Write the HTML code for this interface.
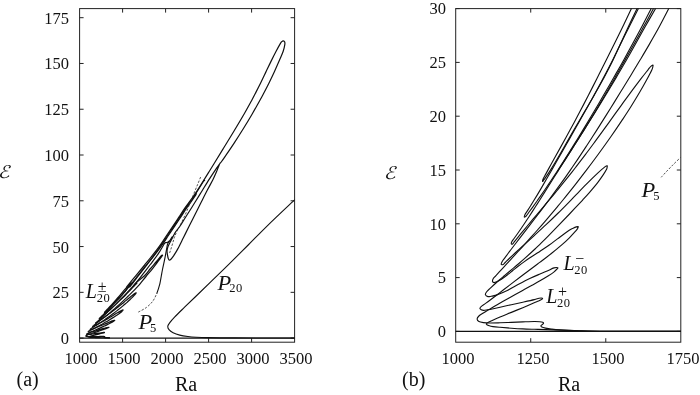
<!DOCTYPE html>
<html lang="en"><head><meta charset="utf-8"><title>Bifurcation diagrams</title>
<style>
html,body{margin:0;padding:0;background:#fff;}
body{width:700px;height:395px;overflow:hidden;}
svg{display:block;}
text{font-family:"Liberation Serif","DejaVu Serif",serif;fill:#111;}
.tk text{font-size:16.5px;}
.big{font-size:20px;}
.it{font-style:italic;}
.sc{font-size:12.5px;letter-spacing:0.5px;}
.sp{font-size:16px;}
.cal{font-family:"DejaVu Sans","Liberation Serif",sans-serif;font-size:17.6px;font-style:italic;}
.cv path{fill:none;stroke:#111;stroke-width:1.12;stroke-linejoin:round;stroke-linecap:round;}
.cv path.th{stroke-width:0.8;}
.cv path.sn{stroke-width:1.2;}
.cv path.ds{stroke-width:0.85;stroke-dasharray:2.3 1.5;stroke:#333;stroke-linecap:butt;}
</style></head><body>
<svg width="700" height="395" viewBox="0 0 700 395">
<rect width="700" height="395" fill="#fff"/>
<rect x="79.60" y="8.60" width="215.00" height="333.60" fill="none" stroke="#222" stroke-width="1"/>
<path d="M122.60 342.20v-4.00M122.60 8.60v4.00M165.60 342.20v-4.00M165.60 8.60v4.00M208.60 342.20v-4.00M208.60 8.60v4.00M251.60 342.20v-4.00M251.60 8.60v4.00M79.60 338.10h4.00M294.60 338.10h-4.00M79.60 292.33h4.00M294.60 292.33h-4.00M79.60 246.56h4.00M294.60 246.56h-4.00M79.60 200.79h4.00M294.60 200.79h-4.00M79.60 155.01h4.00M294.60 155.01h-4.00M79.60 109.24h4.00M294.60 109.24h-4.00M79.60 63.47h4.00M294.60 63.47h-4.00M79.60 17.70h4.00M294.60 17.70h-4.00" stroke="#222" stroke-width="1" fill="none"/>
<rect x="455.70" y="8.60" width="225.10" height="333.60" fill="none" stroke="#222" stroke-width="1"/>
<path d="M530.73 342.20v-4.00M530.73 8.60v4.00M605.77 342.20v-4.00M605.77 8.60v4.00M455.70 331.40h4.00M680.80 331.40h-4.00M455.70 277.60h4.00M680.80 277.60h-4.00M455.70 223.80h4.00M680.80 223.80h-4.00M455.70 170.00h4.00M680.80 170.00h-4.00M455.70 116.20h4.00M680.80 116.20h-4.00M455.70 62.40h4.00M680.80 62.40h-4.00M455.70 8.60h4.00M680.80 8.60h-4.00" stroke="#222" stroke-width="1" fill="none"/>
<g class="tk"><text x="81.10" y="364" text-anchor="middle">1000</text>
<text x="124.10" y="364" text-anchor="middle">1500</text>
<text x="167.10" y="364" text-anchor="middle">2000</text>
<text x="210.10" y="364" text-anchor="middle">2500</text>
<text x="253.10" y="364" text-anchor="middle">3000</text>
<text x="296.10" y="364" text-anchor="middle">3500</text>
<text x="69" y="344.10" text-anchor="end">0</text>
<text x="69" y="298.33" text-anchor="end">25</text>
<text x="69" y="252.56" text-anchor="end">50</text>
<text x="69" y="206.79" text-anchor="end">75</text>
<text x="69" y="161.01" text-anchor="end">100</text>
<text x="69" y="115.24" text-anchor="end">125</text>
<text x="69" y="69.47" text-anchor="end">150</text>
<text x="69" y="23.70" text-anchor="end">175</text>
<text x="457.90" y="364" text-anchor="middle">1000</text>
<text x="532.93" y="364" text-anchor="middle">1250</text>
<text x="607.97" y="364" text-anchor="middle">1500</text>
<text x="683.00" y="364" text-anchor="middle">1750</text>
<text x="446" y="337.20" text-anchor="end">0</text>
<text x="446" y="283.40" text-anchor="end">5</text>
<text x="446" y="229.60" text-anchor="end">10</text>
<text x="446" y="175.80" text-anchor="end">15</text>
<text x="446" y="122.00" text-anchor="end">20</text>
<text x="446" y="68.20" text-anchor="end">25</text>
<text x="446" y="14.40" text-anchor="end">30</text></g>
<text class="big" x="16.5" y="386">(a)</text>
<text class="big" x="402" y="386">(b)</text>
<text class="big" x="175" y="391">Ra</text>
<text class="big" x="558" y="391">Ra</text>
<text class="cal" transform="translate(-2.2 178.4) skewX(-14) scale(1.12 1)">&#8496;</text>
<text class="cal" transform="translate(383.7 178.5) skewX(-14) scale(1.12 1)">&#8496;</text>
<text class="big it" x="563.4" y="269.8">L</text><text class="sc" x="574.3" y="273.7">20</text><text class="sp" x="575.3" y="264.2">&#8722;</text>
<text class="big it" x="546.2" y="302.6">L</text><text class="sc" x="557.1" y="306.5">20</text><text class="sp" x="558.1" y="297.0">+</text>
<text class="big it" transform="translate(641.6 197.4) scale(1.12 1)">P</text><text class="sc" x="653.2" y="200.0">5</text>
<text class="big it" x="85.8" y="298.0">L</text><text class="sc" x="96.7" y="301.9">20</text><text class="sp" x="97.7" y="292.4">&#177;</text>
<text class="big it" transform="translate(138.4 328.9) scale(1.12 1)">P</text><text class="sc" x="150.0" y="331.5">5</text>
<text class="big it" transform="translate(217.6 289.7) scale(1.12 1)">P</text><text class="sc" x="229.2" y="292.3">20</text>
<clipPath id="cr"><rect x="455.70" y="8.60" width="225.10" height="333.60"/></clipPath>
<clipPath id="cl"><rect x="79.60" y="8.60" width="215.00" height="333.60"/></clipPath>
<g class="cv" clip-path="url(#cr)"><path d="M680.80 331.40C674.00 331.40 652.63 331.42 640.00 331.40C627.37 331.38 615.00 331.40 605.00 331.30C595.00 331.20 587.50 331.00 580.00 330.80C572.50 330.60 565.75 330.30 560.00 330.10C554.25 329.90 549.80 329.73 545.50 329.60C541.20 329.47 537.98 329.42 534.20 329.30C530.42 329.18 526.60 329.08 522.80 328.90C519.00 328.72 515.20 328.47 511.40 328.20C507.60 327.93 503.07 327.57 500.00 327.30C496.93 327.03 494.78 326.85 493.00 326.60C491.22 326.35 490.40 326.20 489.30 325.80C488.20 325.40 486.67 324.73 486.40 324.20C486.13 323.67 486.73 323.23 487.70 322.60C488.67 321.97 490.16 321.35 492.21 320.42C494.26 319.48 496.81 318.35 500.00 317.01C503.20 315.66 507.58 313.92 511.38 312.36C515.19 310.80 519.02 309.24 522.82 307.65C526.62 306.07 531.55 303.96 534.18 302.85C536.81 301.74 537.35 301.58 538.60 301.00C539.85 300.42 541.06 299.85 541.69 299.39C542.32 298.92 542.85 298.38 542.40 298.20C541.95 298.02 540.36 298.07 539.00 298.30C537.64 298.53 536.95 298.95 534.24 299.60C531.54 300.25 526.59 301.35 522.78 302.20C518.97 303.05 515.16 303.83 511.37 304.68C507.59 305.52 503.25 306.55 500.06 307.26C496.86 307.98 494.29 308.54 492.21 308.96C490.14 309.39 489.10 309.56 487.61 309.80C486.13 310.04 484.57 310.57 483.30 310.40C482.03 310.23 480.37 309.43 480.00 308.80C479.63 308.17 480.23 307.46 481.10 306.60C481.97 305.74 483.81 304.67 485.22 303.65C486.63 302.62 487.67 301.87 489.55 300.46C491.43 299.05 494.17 296.98 496.51 295.21C498.84 293.43 500.82 291.90 503.55 289.81C506.27 287.72 509.40 285.29 512.85 282.66C516.29 280.03 520.43 276.89 524.22 274.03C528.01 271.17 532.96 267.48 535.60 265.50C538.24 263.52 537.48 264.12 540.05 262.16C542.63 260.21 547.38 256.67 551.04 253.75C554.71 250.84 558.98 247.33 562.03 244.67C565.09 242.02 567.27 239.89 569.37 237.81C571.47 235.73 573.27 233.71 574.64 232.17C576.01 230.64 577.09 229.29 577.60 228.60C578.11 227.91 577.58 228.34 577.69 228.04C577.81 227.74 578.53 226.99 578.30 226.80C578.07 226.61 577.17 226.67 576.30 226.90C575.43 227.13 574.28 227.60 573.11 228.16C571.93 228.71 571.79 228.50 569.24 230.25C566.68 232.00 561.03 236.23 557.77 238.65C554.50 241.07 552.57 242.67 549.64 244.76C546.70 246.85 542.45 249.65 540.13 251.20C537.82 252.74 537.45 252.92 535.75 254.02C534.05 255.13 531.86 256.51 529.91 257.82C527.96 259.12 525.94 260.49 524.03 261.85C522.12 263.22 520.32 264.56 518.44 266.02C516.57 267.47 514.64 269.06 512.77 270.56C510.91 272.07 509.15 273.59 507.26 275.04C505.37 276.48 503.19 278.11 501.42 279.23C499.65 280.34 497.83 281.18 496.62 281.74C495.42 282.30 494.89 282.66 494.20 282.60C493.51 282.54 492.65 282.08 492.50 281.40C492.35 280.72 492.76 279.43 493.30 278.50C493.84 277.57 494.37 277.32 495.73 275.82C497.10 274.33 499.61 271.59 501.47 269.56C503.34 267.53 505.04 265.68 506.91 263.66C508.78 261.63 510.76 259.48 512.67 257.40C514.58 255.33 516.64 253.09 518.37 251.20C520.10 249.31 520.22 249.21 523.07 246.05C525.92 242.89 531.55 236.67 535.47 232.25C539.38 227.83 542.90 223.81 546.57 219.53C550.25 215.26 554.76 209.89 557.52 206.59C560.29 203.29 560.27 203.32 563.16 199.74C566.06 196.17 570.99 190.08 574.89 185.12C578.80 180.15 582.83 174.93 586.61 169.96C590.38 164.98 594.32 159.67 597.55 155.27C600.79 150.86 603.00 147.80 606.03 143.52C609.06 139.25 612.96 133.66 615.73 129.64C618.49 125.62 620.05 123.32 622.62 119.42C625.19 115.51 628.30 110.78 631.16 106.22C634.02 101.66 637.15 96.54 639.79 92.04C642.43 87.55 644.99 82.94 646.99 79.26C648.99 75.59 650.81 72.15 651.80 70.00C652.79 67.85 652.74 67.21 652.91 66.38C653.08 65.55 653.18 64.96 652.80 65.00C652.42 65.04 651.40 65.80 650.60 66.60C649.80 67.40 649.58 67.83 648.01 69.81C646.45 71.79 643.73 75.19 641.22 78.46C638.71 81.73 635.82 85.53 632.93 89.40C630.04 93.28 626.90 97.57 623.90 101.70C620.89 105.82 618.28 109.47 614.89 114.17C611.50 118.87 607.05 125.09 603.57 129.90C600.09 134.70 597.08 138.84 594.01 143.01C590.94 147.17 588.28 150.77 585.16 154.89C582.05 159.02 578.69 163.41 575.32 167.75C571.94 172.08 567.93 177.12 564.89 180.91C561.85 184.71 559.69 187.33 557.09 190.49C554.49 193.66 551.14 197.66 549.27 199.90C547.41 202.14 547.20 202.38 545.90 203.92C544.60 205.46 542.95 207.42 541.48 209.16C540.01 210.90 538.61 212.55 537.09 214.35C535.57 216.14 533.92 218.08 532.35 219.94C530.79 221.80 529.19 223.69 527.67 225.50C526.16 227.32 524.74 229.02 523.24 230.83C521.74 232.64 520.11 234.62 518.68 236.38C517.25 238.14 515.67 240.12 514.66 241.39C513.64 242.66 513.16 243.60 512.60 244.00C512.04 244.40 511.42 244.22 511.30 243.80C511.18 243.38 511.41 242.42 511.90 241.50C512.39 240.58 513.05 239.95 514.24 238.29C515.43 236.62 517.47 233.76 519.04 231.51C520.61 229.26 522.16 226.97 523.64 224.77C525.13 222.57 526.54 220.44 527.95 218.29C529.36 216.15 530.80 213.93 532.13 211.89C533.45 209.85 534.67 207.95 535.89 206.05C537.11 204.14 537.96 202.81 539.46 200.45C540.95 198.10 542.87 195.07 544.86 191.91C546.86 188.76 549.29 184.90 551.42 181.51C553.55 178.13 555.46 175.09 557.66 171.60C559.87 168.11 561.84 164.97 564.62 160.58C567.40 156.18 571.01 150.49 574.35 145.21C577.69 139.94 581.26 134.31 584.66 128.91C588.06 123.52 591.18 118.57 594.74 112.84C598.30 107.11 602.36 100.56 606.03 94.52C609.70 88.48 613.36 82.37 616.76 76.60C620.17 70.83 623.52 65.02 626.46 59.91C629.39 54.81 631.28 51.45 634.37 45.98C637.45 40.51 641.42 33.35 644.96 27.10C648.49 20.84 653.38 12.28 655.59 8.43C657.80 4.58 657.77 4.74 658.20 4.00"/>
<path d="M639.60 4.00C639.18 4.74 639.31 3.92 637.09 8.44C634.87 12.97 630.26 22.59 626.27 31.15C622.29 39.70 616.96 51.87 613.17 59.77C609.38 67.66 606.74 72.53 603.53 78.52C600.32 84.50 597.31 89.74 593.92 95.67C590.52 101.60 586.48 108.39 583.16 114.09C579.83 119.78 577.19 124.26 573.97 129.82C570.76 135.38 566.87 142.23 563.87 147.43C560.88 152.64 558.28 157.19 555.99 161.05C553.71 164.91 551.79 167.99 550.16 170.59C548.53 173.18 547.25 175.04 546.19 176.60C545.13 178.17 544.40 179.18 543.80 180.00C543.20 180.82 542.73 181.63 542.60 181.50C542.47 181.37 542.48 180.43 543.00 179.20C543.52 177.97 544.68 176.04 545.72 174.11C546.76 172.19 548.01 169.89 549.26 167.63C550.50 165.37 551.26 164.00 553.18 160.54C555.10 157.08 557.95 152.00 560.78 146.88C563.61 141.77 567.19 135.30 570.16 129.83C573.13 124.35 575.61 119.74 578.61 114.06C581.61 108.38 585.11 101.67 588.16 95.74C591.22 89.81 593.93 84.47 596.96 78.48C600.00 72.49 602.68 67.18 606.38 59.78C610.09 52.39 615.01 42.63 619.19 34.10C623.37 25.56 629.05 13.58 631.43 8.57C633.82 3.55 633.16 4.76 633.50 4.00"/>
<path d="M680.80 331.40C674.00 331.40 652.63 331.42 640.00 331.40C627.37 331.38 615.00 331.42 605.00 331.30C595.00 331.18 587.50 330.93 580.00 330.70C572.50 330.47 564.80 330.17 560.00 329.90C555.20 329.63 553.62 329.40 551.20 329.10C548.78 328.80 547.07 328.45 545.50 328.10C543.93 327.75 542.57 327.37 541.80 327.00C541.03 326.63 540.85 326.28 540.90 325.90C540.95 325.52 541.67 325.13 542.10 324.70C542.53 324.27 543.40 323.72 543.50 323.30C543.60 322.88 543.30 322.47 542.70 322.20C542.10 321.93 541.32 321.82 539.90 321.70C538.48 321.58 537.05 321.47 534.20 321.50C531.35 321.53 526.60 321.75 522.80 321.90C519.00 322.05 515.20 322.25 511.40 322.40C507.60 322.55 503.57 322.70 500.00 322.80C496.43 322.90 492.78 323.03 490.00 323.00C487.22 322.97 485.15 322.83 483.30 322.60C481.45 322.37 479.93 322.18 478.90 321.60C477.87 321.02 477.10 320.03 477.10 319.10C477.10 318.17 477.86 317.02 478.90 316.00C479.94 314.98 481.89 313.93 483.34 312.98C484.80 312.02 486.26 311.13 487.63 310.29C489.01 309.45 489.94 308.89 491.61 307.92C493.28 306.95 495.78 305.51 497.63 304.46C499.48 303.40 499.76 303.25 502.70 301.60C505.64 299.95 511.69 296.56 515.27 294.56C518.86 292.56 521.41 291.15 524.20 289.60C526.99 288.05 529.41 286.73 532.04 285.27C534.67 283.81 537.30 282.37 539.96 280.83C542.62 279.29 545.71 277.48 548.02 276.03C550.32 274.57 552.28 273.28 553.80 272.10C555.32 270.92 556.50 269.70 557.15 268.97C557.80 268.24 558.23 267.88 557.70 267.70C557.17 267.52 555.76 267.35 554.00 267.90C552.24 268.45 549.50 269.97 547.16 270.98C544.83 271.99 542.89 272.72 539.99 273.98C537.09 275.23 533.32 276.81 529.74 278.53C526.16 280.26 522.25 282.34 518.51 284.33C514.77 286.32 511.01 288.65 507.30 290.45C503.58 292.25 498.90 294.15 496.22 295.12C493.54 296.09 492.59 296.02 491.22 296.27C489.85 296.51 488.97 296.88 488.00 296.60C487.03 296.32 485.65 295.37 485.40 294.60C485.15 293.83 485.76 293.00 486.50 292.00C487.24 291.00 487.73 290.58 489.81 288.62C491.90 286.66 496.54 282.43 499.03 280.23C501.51 278.03 502.41 277.34 504.71 275.41C507.01 273.47 510.50 270.57 512.82 268.62C515.14 266.67 516.68 265.38 518.62 263.71C520.55 262.05 522.53 260.34 524.45 258.64C526.37 256.94 528.29 255.21 530.13 253.53C531.98 251.84 533.93 250.01 535.52 248.52C537.10 247.02 537.50 246.66 539.65 244.56C541.79 242.45 545.36 238.95 548.39 235.89C551.42 232.84 554.30 229.87 557.82 226.22C561.34 222.57 565.37 218.36 569.50 214.00C573.64 209.63 579.29 203.64 582.64 200.04C585.98 196.43 587.03 195.32 589.57 192.37C592.10 189.42 595.54 185.35 597.86 182.36C600.18 179.36 602.02 176.62 603.50 174.40C604.97 172.17 606.10 170.20 606.70 169.00C607.30 167.80 607.04 167.71 607.12 167.18C607.21 166.65 607.52 165.90 607.20 165.80C606.88 165.70 606.74 165.42 605.20 166.60C603.66 167.78 601.14 169.91 597.96 172.87C594.79 175.83 589.96 180.56 586.17 184.36C582.39 188.16 577.74 193.08 575.25 195.66C572.76 198.23 574.11 196.89 571.23 199.82C568.35 202.75 562.10 209.15 557.95 213.26C553.80 217.36 550.20 220.80 546.34 224.43C542.48 228.07 538.47 231.73 534.80 235.09C531.13 238.46 526.71 242.43 524.31 244.61C521.90 246.79 521.91 246.78 520.38 248.18C518.84 249.58 516.97 251.29 515.11 253.02C513.26 254.74 510.86 256.99 509.24 258.53C507.61 260.07 506.38 261.29 505.37 262.26C504.36 263.24 503.89 264.04 503.20 264.40C502.51 264.76 501.37 264.88 501.20 264.40C501.03 263.92 501.57 262.63 502.20 261.50C502.83 260.37 503.77 259.31 505.00 257.63C506.23 255.95 508.02 253.54 509.60 251.43C511.17 249.32 512.71 247.29 514.47 244.98C516.23 242.67 518.03 240.33 520.14 237.59C522.25 234.86 524.62 231.80 527.11 228.57C529.60 225.35 532.65 221.41 535.08 218.25C537.50 215.09 539.27 212.78 541.67 209.61C544.06 206.45 546.88 202.71 549.44 199.26C551.99 195.82 554.57 192.31 557.01 188.94C559.45 185.57 561.80 182.27 564.08 179.05C566.35 175.83 568.46 172.81 570.67 169.61C572.88 166.41 574.69 163.76 577.34 159.83C579.98 155.89 583.27 150.96 586.51 146.01C589.75 141.05 593.51 135.22 596.77 130.11C600.03 125.01 603.15 120.05 606.08 115.38C609.01 110.71 611.54 106.63 614.35 102.10C617.16 97.57 620.06 92.87 622.91 88.21C625.77 83.56 628.62 78.91 631.50 74.17C634.38 69.43 637.24 64.72 640.19 59.79C643.13 54.87 646.04 50.02 649.17 44.61C652.31 39.20 655.72 33.32 658.99 27.32C662.26 21.32 666.77 12.50 668.77 8.61C670.78 4.73 670.63 4.77 671.00 4.00"/>
<path d="M653.40 4.00C653.03 4.75 653.40 4.15 651.18 8.49C648.95 12.82 644.63 21.46 640.06 30.03C635.49 38.60 628.08 52.07 623.75 59.91C619.41 67.74 617.41 71.17 614.06 77.04C610.71 82.90 606.99 89.35 603.65 95.09C600.31 100.84 597.46 105.71 594.02 111.51C590.58 117.31 586.39 124.33 583.03 129.90C579.67 135.46 577.02 139.79 573.85 144.91C570.69 150.03 566.82 156.20 564.01 160.63C561.21 165.06 559.18 168.19 557.02 171.51C554.86 174.83 553.08 177.55 551.08 180.55C549.08 183.55 546.83 186.88 545.03 189.52C543.24 192.16 541.57 194.56 540.30 196.38C539.04 198.21 538.64 198.77 537.44 200.46C536.24 202.16 534.42 204.72 533.09 206.55C531.77 208.39 530.62 209.95 529.49 211.50C528.36 213.04 527.15 214.87 526.30 215.80C525.45 216.73 524.62 217.32 524.40 217.10C524.18 216.88 524.48 215.57 525.00 214.50C525.52 213.43 526.51 212.23 527.53 210.65C528.54 209.07 529.99 206.80 531.09 205.04C532.20 203.28 532.70 202.49 534.15 200.08C535.61 197.68 537.71 194.20 539.82 190.60C541.94 187.01 544.78 182.10 546.84 178.52C548.91 174.94 550.51 172.13 552.23 169.13C553.94 166.13 554.84 164.54 557.14 160.52C559.43 156.50 563.07 150.11 565.99 144.99C568.91 139.88 571.63 135.13 574.65 129.81C577.68 124.49 581.07 118.54 584.14 113.08C587.21 107.62 589.92 102.80 593.08 97.04C596.23 91.28 599.80 84.72 603.07 78.54C606.34 72.35 609.02 67.19 612.69 59.94C616.35 52.69 620.76 43.61 625.05 35.03C629.34 26.45 635.79 13.62 638.41 8.45C641.04 3.28 640.40 4.74 640.80 4.00"/>
<path d="M655.80 4.00C655.42 4.74 655.60 4.51 653.50 8.44C651.39 12.37 646.59 21.34 643.16 27.60C639.74 33.85 635.95 40.58 632.94 45.97C629.93 51.35 628.04 54.71 625.11 59.89C622.19 65.07 618.69 71.28 615.39 77.06C612.10 82.84 608.72 88.75 605.32 94.57C601.93 100.40 598.57 106.13 595.03 112.02C591.49 117.90 587.57 124.30 584.10 129.89C580.64 135.47 577.47 140.43 574.22 145.51C570.98 150.60 567.37 156.13 564.64 160.38C561.90 164.63 558.94 169.23 557.80 171.00"/>
<path d="M455.70 331.40H680.80"/>
<path class="ds" d="M661.20 177.30C662.17 176.25 664.87 173.25 667.00 171.00C669.13 168.75 671.73 166.07 674.00 163.80C676.27 161.53 679.50 158.47 680.60 157.40"/></g>
<g class="cv" clip-path="url(#cl)"><path class="sn" d="M109.49 337.88C108.79 337.86 106.56 337.82 105.33 337.79C104.10 337.77 103.18 337.76 102.09 337.74C101.01 337.72 99.92 337.71 98.83 337.67C97.74 337.64 96.65 337.60 95.56 337.56C94.47 337.51 93.17 337.45 92.29 337.40C91.41 337.36 90.80 337.33 90.29 337.28C89.78 337.24 89.54 337.22 89.23 337.15C88.91 337.08 88.47 336.97 88.40 336.87C88.32 336.78 88.49 336.71 88.77 336.60C89.05 336.50 89.47 336.39 90.06 336.23C90.65 336.07 91.38 335.88 92.29 335.65C93.21 335.42 94.47 335.13 95.56 334.86C96.65 334.60 97.74 334.33 98.83 334.06C99.92 333.79 101.33 333.43 102.09 333.24C102.84 333.05 103.00 333.03 103.35 332.93C103.71 332.83 104.06 332.73 104.24 332.65C104.42 332.57 104.57 332.48 104.44 332.45C104.31 332.42 103.86 332.43 103.47 332.47C103.08 332.51 102.88 332.58 102.11 332.69C101.33 332.80 99.91 332.99 98.82 333.13C97.73 333.28 96.64 333.41 95.55 333.55C94.47 333.70 93.23 333.87 92.31 333.99C91.40 334.11 90.66 334.21 90.06 334.28C89.47 334.35 89.17 334.38 88.74 334.42C88.32 334.47 87.87 334.56 87.51 334.53C87.14 334.50 86.67 334.36 86.56 334.25C86.46 334.15 86.63 334.03 86.88 333.88C87.13 333.73 87.66 333.55 88.06 333.38C88.46 333.20 88.76 333.07 89.30 332.84C89.84 332.60 90.62 332.24 91.29 331.94C91.96 331.64 92.53 331.38 93.31 331.02C94.09 330.67 94.99 330.25 95.98 329.81C96.96 329.36 98.15 328.82 99.23 328.34C100.32 327.85 101.74 327.22 102.49 326.89C103.25 326.55 103.03 326.65 103.77 326.32C104.51 325.99 105.87 325.38 106.92 324.89C107.97 324.39 109.19 323.79 110.07 323.34C110.94 322.89 111.57 322.53 112.17 322.18C112.77 321.82 113.29 321.48 113.68 321.22C114.07 320.95 114.38 320.73 114.53 320.61C114.68 320.49 114.52 320.56 114.56 320.51C114.59 320.46 114.80 320.33 114.73 320.30C114.66 320.27 114.40 320.28 114.16 320.32C113.91 320.36 113.58 320.44 113.24 320.53C112.90 320.63 112.86 320.59 112.13 320.89C111.40 321.19 109.78 321.91 108.85 322.32C107.91 322.73 107.36 323.00 106.52 323.36C105.67 323.71 104.46 324.19 103.79 324.45C103.13 324.72 103.03 324.75 102.54 324.93C102.05 325.12 101.42 325.36 100.86 325.58C100.30 325.80 99.73 326.03 99.18 326.27C98.63 326.50 98.12 326.73 97.58 326.97C97.04 327.22 96.49 327.49 95.95 327.75C95.42 328.00 94.92 328.26 94.37 328.51C93.83 328.76 93.21 329.03 92.70 329.22C92.19 329.41 91.67 329.55 91.33 329.65C90.98 329.75 90.83 329.81 90.63 329.80C90.43 329.79 90.19 329.71 90.14 329.59C90.10 329.48 90.22 329.26 90.37 329.10C90.53 328.94 90.68 328.90 91.07 328.64C91.46 328.39 92.18 327.92 92.72 327.58C93.25 327.23 93.74 326.92 94.27 326.57C94.81 326.23 95.38 325.86 95.92 325.51C96.47 325.16 97.06 324.78 97.56 324.45C98.05 324.13 98.09 324.12 98.90 323.58C99.72 323.04 101.33 321.98 102.46 321.23C103.58 320.48 104.59 319.79 105.64 319.07C106.69 318.34 107.98 317.42 108.78 316.86C109.57 316.30 109.56 316.31 110.39 315.70C111.22 315.09 112.63 314.05 113.75 313.21C114.87 312.36 116.03 311.48 117.11 310.63C118.19 309.78 119.32 308.88 120.25 308.13C121.17 307.38 121.81 306.86 122.68 306.13C123.54 305.41 124.66 304.45 125.45 303.77C126.25 303.09 126.69 302.69 127.43 302.03C128.17 301.37 129.06 300.56 129.88 299.78C130.69 299.01 131.59 298.14 132.35 297.37C133.10 296.61 133.84 295.82 134.41 295.20C134.98 294.57 135.51 293.99 135.79 293.62C136.07 293.26 136.06 293.15 136.11 293.01C136.16 292.86 136.19 292.76 136.08 292.77C135.97 292.78 135.68 292.91 135.45 293.04C135.22 293.18 135.15 293.25 134.70 293.59C134.26 293.93 133.48 294.51 132.76 295.06C132.04 295.62 131.21 296.26 130.38 296.92C129.56 297.58 128.66 298.31 127.79 299.02C126.93 299.72 126.18 300.34 125.21 301.14C124.24 301.94 122.97 303.00 121.97 303.81C120.97 304.63 120.11 305.34 119.23 306.04C118.35 306.75 117.59 307.37 116.70 308.07C115.80 308.77 114.84 309.52 113.87 310.25C112.91 310.99 111.76 311.85 110.89 312.49C110.02 313.14 109.40 313.59 108.65 314.12C107.91 314.66 106.95 315.34 106.41 315.73C105.88 316.11 105.82 316.15 105.45 316.41C105.07 316.67 104.60 317.00 104.18 317.30C103.76 317.60 103.36 317.88 102.92 318.18C102.49 318.49 102.01 318.82 101.56 319.14C101.11 319.45 100.66 319.77 100.22 320.08C99.79 320.39 99.38 320.68 98.95 320.99C98.52 321.30 98.06 321.63 97.65 321.93C97.24 322.23 96.78 322.57 96.49 322.78C96.20 323.00 96.06 323.16 95.90 323.23C95.74 323.30 95.57 323.27 95.53 323.19C95.50 323.12 95.56 322.96 95.70 322.80C95.84 322.65 96.03 322.54 96.38 322.26C96.72 321.97 97.30 321.49 97.75 321.10C98.20 320.72 98.64 320.33 99.07 319.96C99.49 319.58 99.90 319.22 100.30 318.85C100.71 318.49 101.12 318.11 101.50 317.77C101.88 317.42 102.23 317.10 102.58 316.77C102.93 316.45 103.17 316.22 103.60 315.82C104.03 315.42 104.58 314.90 105.15 314.37C105.72 313.83 106.42 313.17 107.03 312.60C107.64 312.02 108.19 311.50 108.82 310.91C109.45 310.32 110.01 309.78 110.81 309.03C111.61 308.29 112.64 307.32 113.60 306.42C114.55 305.52 115.58 304.56 116.55 303.65C117.52 302.73 118.42 301.89 119.44 300.91C120.46 299.94 121.62 298.82 122.67 297.79C123.73 296.77 124.77 295.73 125.75 294.74C126.73 293.76 127.69 292.77 128.53 291.91C129.37 291.04 129.91 290.47 130.80 289.53C131.68 288.60 132.82 287.39 133.83 286.32C134.84 285.26 137.00 283.07 136.88 283.15C136.76 283.23 132.26 288.09 133.10 286.80C133.94 285.51 139.10 279.03 141.90 275.40C144.69 271.77 147.19 268.53 149.88 265.00C152.56 261.47 155.84 257.37 158.02 254.20C160.21 251.03 161.95 247.77 163.00 246.00C164.05 244.23 163.87 244.17 164.30 243.60C164.73 243.03 165.08 242.80 165.60 242.60C166.12 242.40 166.73 242.67 167.40 242.40C168.07 242.13 168.80 241.93 169.60 241.00C170.40 240.07 171.77 237.50 172.20 236.80"/>
<path class="sn" d="M195.50 194.60C195.42 194.40 194.95 193.33 195.00 193.40C195.05 193.47 197.12 192.66 195.77 195.04C194.42 197.42 189.41 204.01 186.90 207.70C184.39 211.39 182.78 214.05 180.70 217.20C178.62 220.35 176.45 223.55 174.40 226.60C172.35 229.65 170.32 232.63 168.40 235.50C166.48 238.37 165.09 240.68 162.90 243.80C160.71 246.92 157.97 250.67 155.26 254.20C152.55 257.73 149.48 261.47 146.64 265.00C143.80 268.53 141.16 271.77 138.20 275.40C135.25 279.03 130.00 285.51 128.90 286.80C127.80 288.09 131.65 283.11 131.58 283.15C131.51 283.18 129.62 285.56 128.48 287.01C127.33 288.47 125.81 290.54 124.72 291.88C123.64 293.22 122.88 294.05 121.96 295.07C121.04 296.09 120.18 296.98 119.20 297.99C118.23 299.00 117.07 300.15 116.12 301.12C115.17 302.09 114.41 302.85 113.49 303.80C112.57 304.75 111.45 305.91 110.60 306.80C109.74 307.68 108.99 308.46 108.34 309.11C107.68 309.77 107.13 310.30 106.67 310.74C106.20 311.18 105.83 311.49 105.53 311.76C105.23 312.03 105.02 312.20 104.84 312.34C104.67 312.48 104.54 312.62 104.50 312.59C104.46 312.57 104.47 312.41 104.61 312.20C104.76 311.99 105.10 311.67 105.39 311.34C105.69 311.01 106.05 310.62 106.41 310.23C106.76 309.85 106.98 309.62 107.53 309.03C108.08 308.44 108.90 307.58 109.71 306.70C110.52 305.83 111.55 304.73 112.40 303.80C113.25 302.87 113.96 302.09 114.82 301.12C115.68 300.15 116.68 299.01 117.56 298.00C118.43 296.99 119.21 296.08 120.08 295.06C120.95 294.05 121.71 293.14 122.78 291.88C123.84 290.62 125.25 288.97 126.45 287.51C127.64 286.06 129.91 283.29 129.95 283.17C130.00 283.05 125.67 288.09 126.70 286.80C127.73 285.51 133.12 279.03 136.11 275.40C139.10 271.77 141.77 268.53 144.64 265.00C147.52 261.47 150.62 257.73 153.37 254.20C156.11 250.67 158.89 246.92 161.10 243.80C163.31 240.68 164.68 238.37 166.60 235.50C168.52 232.63 170.55 229.65 172.60 226.60C174.65 223.55 176.81 220.35 178.90 217.20C180.99 214.05 182.58 211.39 185.15 207.70C187.71 204.01 191.30 199.41 194.27 195.04C197.24 190.68 200.37 185.63 202.98 181.51C205.60 177.38 208.03 173.41 209.97 170.28C211.91 167.16 212.36 166.43 214.61 162.75C216.87 159.07 220.20 153.57 223.49 148.19C226.77 142.81 230.78 136.39 234.34 130.48C237.89 124.57 241.91 117.81 244.84 112.72C247.77 107.63 250.11 103.26 251.91 99.95C253.71 96.64 254.20 95.66 255.63 92.86C257.07 90.06 258.85 86.52 260.51 83.15C262.17 79.77 263.89 76.16 265.60 72.62C267.31 69.07 269.01 65.43 270.76 61.87C272.51 58.32 274.51 54.35 276.10 51.30C277.69 48.25 279.35 45.22 280.30 43.60C281.25 41.98 281.30 42.05 281.80 41.60C282.30 41.15 282.82 40.83 283.30 40.90C283.78 40.97 284.45 41.38 284.70 42.00C284.95 42.62 285.05 43.05 284.80 44.60C284.55 46.15 284.08 48.72 283.20 51.30C282.32 53.88 281.01 56.67 279.54 60.06C278.07 63.46 276.16 67.80 274.38 71.65C272.61 75.49 270.64 79.58 268.89 83.14C267.13 86.69 265.34 90.13 263.85 92.99C262.36 95.84 261.94 96.69 259.95 100.27C257.96 103.85 254.69 109.71 251.91 114.45C249.13 119.20 246.21 124.02 243.28 128.74C240.34 133.47 237.29 138.24 234.30 142.80C231.31 147.36 227.54 152.88 225.36 156.08C223.18 159.28 222.11 160.76 221.20 162.00C220.29 163.24 220.25 162.95 219.90 163.50C219.55 164.05 219.68 163.88 219.10 165.30C218.52 166.72 217.42 169.63 216.40 172.00C215.38 174.37 214.48 176.53 213.00 179.50C211.52 182.47 209.37 186.22 207.50 189.80C205.63 193.38 203.50 197.63 201.80 201.00C200.10 204.37 199.40 205.82 197.30 210.00C195.20 214.18 191.50 221.52 189.20 226.10C186.90 230.68 185.40 233.70 183.50 237.50C181.60 241.30 179.48 245.78 177.80 248.90C176.12 252.02 174.50 254.52 173.40 256.20C172.30 257.88 171.87 258.33 171.20 259.00C170.53 259.67 169.88 260.27 169.40 260.20C168.92 260.13 168.58 259.30 168.30 258.60C168.02 257.90 167.92 257.23 167.70 256.00C167.48 254.77 166.97 252.75 167.00 251.20C167.03 249.65 167.37 248.22 167.90 246.70C168.43 245.18 169.35 243.78 170.20 242.10C171.05 240.42 172.10 238.32 173.00 236.60C173.90 234.88 174.53 233.40 175.60 231.80C176.67 230.20 177.80 229.34 179.40 227.00C181.00 224.66 183.19 220.97 185.23 217.75C187.26 214.54 189.24 211.47 191.60 207.70C193.97 203.93 197.56 198.14 199.42 195.14C201.28 192.14 201.05 192.47 202.76 189.71C204.46 186.95 207.28 182.29 209.65 178.60C212.01 174.92 215.39 169.89 216.94 167.59C218.48 165.29 218.44 165.49 218.93 164.81C219.42 164.13 219.74 163.72 219.90 163.50"/>
<path class="sn" d="M109.49 337.84C109.07 337.82 107.66 337.76 106.96 337.71C106.27 337.66 105.78 337.60 105.33 337.54C104.88 337.48 104.49 337.41 104.27 337.35C104.05 337.29 104.00 337.23 104.01 337.16C104.03 337.10 104.23 337.03 104.36 336.96C104.48 336.89 104.73 336.79 104.76 336.72C104.79 336.65 104.70 336.58 104.53 336.53C104.36 336.49 104.13 336.47 103.73 336.45C103.32 336.43 102.91 336.41 102.09 336.42C101.28 336.42 99.92 336.46 98.83 336.48C97.74 336.51 96.65 336.54 95.56 336.57C94.47 336.59 93.32 336.62 92.29 336.64C91.27 336.65 90.23 336.68 89.43 336.67C88.63 336.67 88.04 336.64 87.51 336.60C86.98 336.56 86.54 336.53 86.25 336.43C85.95 336.33 85.73 336.17 85.73 336.01C85.73 335.85 85.95 335.65 86.25 335.48C86.55 335.31 87.10 335.13 87.52 334.96C87.94 334.80 88.36 334.65 88.75 334.51C89.15 334.36 89.41 334.27 89.89 334.10C90.37 333.94 91.09 333.69 91.62 333.52C92.14 333.34 92.22 333.31 93.07 333.03C93.91 332.75 95.64 332.17 96.67 331.83C97.70 331.49 98.43 331.25 99.23 330.99C100.03 330.72 100.72 330.50 101.47 330.25C102.23 330.00 102.98 329.76 103.74 329.50C104.51 329.23 105.39 328.93 106.05 328.68C106.71 328.43 107.27 328.21 107.71 328.01C108.15 327.81 108.48 327.60 108.67 327.48C108.86 327.35 108.98 327.29 108.83 327.26C108.68 327.23 108.27 327.20 107.77 327.30C107.26 327.39 106.48 327.65 105.81 327.82C105.14 327.99 104.58 328.11 103.75 328.33C102.92 328.54 101.84 328.81 100.82 329.10C99.79 329.40 98.67 329.75 97.60 330.09C96.53 330.43 95.45 330.83 94.38 331.13C93.32 331.44 91.98 331.76 91.21 331.93C90.44 332.09 90.17 332.08 89.78 332.12C89.39 332.16 89.13 332.23 88.86 332.18C88.58 332.13 88.18 331.97 88.11 331.84C88.04 331.71 88.21 331.57 88.43 331.40C88.64 331.23 88.78 331.15 89.38 330.82C89.97 330.49 91.30 329.77 92.01 329.39C92.73 329.02 92.98 328.90 93.64 328.57C94.30 328.24 95.30 327.75 95.97 327.42C96.63 327.09 97.07 326.87 97.63 326.58C98.18 326.30 98.75 326.01 99.30 325.72C99.85 325.43 100.40 325.14 100.93 324.85C101.46 324.56 102.02 324.25 102.47 324.00C102.92 323.74 103.04 323.68 103.65 323.32C104.27 322.97 105.29 322.37 106.16 321.85C107.03 321.33 107.85 320.82 108.86 320.20C109.87 319.58 111.02 318.87 112.21 318.12C113.39 317.38 115.01 316.36 115.97 315.75C116.93 315.13 117.23 314.94 117.96 314.44C118.68 313.94 119.67 313.25 120.33 312.74C121.00 312.23 121.53 311.76 121.95 311.39C122.37 311.01 122.69 310.67 122.87 310.47C123.04 310.26 122.96 310.25 122.99 310.16C123.01 310.07 123.10 309.94 123.01 309.92C122.92 309.91 122.88 309.86 122.44 310.06C122.00 310.26 121.27 310.62 120.36 311.13C119.46 311.63 118.07 312.43 116.99 313.08C115.90 313.73 114.57 314.56 113.85 315.00C113.14 315.44 113.53 315.21 112.70 315.71C111.88 316.21 110.09 317.30 108.90 318.00C107.71 318.70 106.68 319.28 105.57 319.90C104.47 320.52 103.32 321.14 102.27 321.71C101.21 322.29 99.95 322.96 99.26 323.33C98.57 323.70 98.57 323.70 98.13 323.94C97.69 324.18 97.16 324.47 96.62 324.76C96.09 325.06 95.41 325.44 94.94 325.70C94.48 325.96 94.12 326.17 93.83 326.34C93.54 326.50 93.41 326.64 93.21 326.70C93.01 326.76 92.69 326.78 92.64 326.70C92.59 326.62 92.74 326.40 92.92 326.21C93.11 326.01 93.37 325.83 93.73 325.55C94.08 325.26 94.59 324.85 95.04 324.49C95.50 324.13 95.94 323.79 96.44 323.40C96.94 323.00 97.46 322.60 98.06 322.14C98.67 321.67 99.35 321.15 100.06 320.60C100.78 320.06 101.65 319.38 102.34 318.85C103.04 318.31 103.55 317.92 104.23 317.38C104.92 316.84 105.73 316.20 106.46 315.62C107.19 315.03 107.93 314.43 108.63 313.86C109.33 313.29 110.00 312.73 110.65 312.18C111.31 311.63 111.91 311.12 112.54 310.57C113.18 310.03 113.70 309.58 114.45 308.91C115.21 308.24 116.15 307.40 117.08 306.55C118.01 305.71 119.09 304.72 120.02 303.85C120.96 302.98 121.85 302.14 122.69 301.34C123.53 300.55 124.26 299.85 125.06 299.08C125.86 298.31 126.69 297.51 127.51 296.72C128.33 295.93 129.15 295.14 129.97 294.33C130.80 293.53 131.62 292.72 132.46 291.89C133.31 291.05 134.14 290.22 135.04 289.30C135.94 288.38 136.91 287.38 137.85 286.36C138.79 285.34 139.30 284.82 140.65 283.18C142.01 281.53 144.11 278.81 146.00 276.50C147.89 274.19 150.00 271.80 152.00 269.30C154.00 266.80 156.42 263.58 158.00 261.50C159.58 259.42 160.73 257.85 161.50 256.80C162.27 255.75 162.72 255.30 162.60 255.20C162.48 255.10 161.82 255.15 160.80 256.20C159.78 257.25 158.22 259.45 156.50 261.50C154.78 263.55 152.50 266.12 150.50 268.50C148.50 270.88 146.98 273.36 144.50 275.80C142.02 278.24 137.62 281.32 135.61 283.15C133.60 284.99 133.74 285.36 132.43 286.82C131.12 288.28 128.99 290.57 127.75 291.90C126.51 293.24 125.94 293.82 124.98 294.82C124.02 295.82 122.95 296.91 121.99 297.89C121.04 298.87 120.22 299.70 119.23 300.69C118.25 301.67 117.05 302.87 116.08 303.81C115.12 304.76 114.36 305.50 113.46 306.37C112.55 307.24 111.44 308.29 110.64 309.04C109.83 309.80 109.25 310.33 108.63 310.89C108.01 311.46 107.50 311.92 106.93 312.43C106.36 312.94 105.71 313.51 105.20 313.96C104.68 314.41 104.20 314.82 103.84 315.13C103.48 315.44 103.37 315.53 103.02 315.82C102.68 316.11 102.16 316.54 101.78 316.86C101.40 317.17 101.07 317.44 100.74 317.70C100.42 317.96 100.07 318.27 99.83 318.43C99.59 318.59 99.35 318.69 99.29 318.65C99.22 318.61 99.31 318.39 99.46 318.21C99.61 318.03 99.89 317.82 100.18 317.55C100.47 317.29 100.89 316.90 101.20 316.60C101.52 316.30 101.66 316.17 102.08 315.76C102.50 315.35 103.10 314.75 103.70 314.14C104.31 313.53 105.12 312.70 105.72 312.09C106.31 311.48 106.77 311.00 107.26 310.49C107.75 309.98 108.01 309.71 108.67 309.02C109.32 308.34 110.37 307.25 111.20 306.38C112.04 305.51 112.82 304.70 113.68 303.80C114.55 302.89 115.52 301.88 116.40 300.95C117.28 300.02 118.06 299.20 118.96 298.22C119.87 297.24 120.89 296.13 121.83 295.07C122.76 294.02 123.53 293.14 124.58 291.91C125.63 290.68 126.90 289.13 128.13 287.67C129.35 286.21 131.68 283.29 131.95 283.15C132.23 283.00 128.69 288.09 129.80 286.80C130.91 285.51 135.82 279.03 138.63 275.40C141.43 271.77 143.93 268.53 146.63 265.00C149.32 261.47 152.24 257.73 154.80 254.20C157.36 250.67 159.88 246.92 162.00 243.80C164.12 240.68 165.58 238.37 167.50 235.50C169.42 232.63 171.45 229.65 173.50 226.60C175.55 223.55 177.72 220.35 179.80 217.20C181.88 214.05 183.49 211.39 186.00 207.70C188.51 204.01 191.99 199.41 194.87 195.04C197.76 190.68 201.79 183.96 203.31 181.51C204.83 179.05 203.79 180.45 204.00 180.30C204.21 180.15 204.50 180.55 204.60 180.60"/>
<path d="M79.60 338.10H294.60"/>
<path d="M294.60 199.80C290.13 204.05 275.53 217.77 267.80 225.30C260.07 232.83 254.75 238.45 248.20 245.00C241.65 251.55 234.70 258.50 228.50 264.60C222.30 270.70 216.38 276.37 211.00 281.60C205.62 286.83 200.60 291.73 196.20 296.00C191.80 300.27 188.17 303.73 184.60 307.20C181.03 310.67 177.27 314.23 174.80 316.80C172.33 319.37 170.97 321.02 169.80 322.60C168.63 324.18 167.93 325.13 167.80 326.30C167.67 327.47 168.12 328.53 169.00 329.60C169.88 330.67 171.32 331.78 173.10 332.70C174.88 333.62 177.23 334.47 179.70 335.10C182.17 335.73 185.15 336.15 187.90 336.50C190.65 336.85 192.90 337.02 196.20 337.20C199.50 337.38 201.23 337.48 207.70 337.60C214.17 337.72 220.52 337.83 235.00 337.90C249.48 337.97 284.67 337.98 294.60 338.00"/>
<path class="ds" d="M138.30 312.10C139.67 311.32 144.05 309.27 146.50 307.40C148.95 305.53 151.27 303.27 153.00 300.90C154.73 298.53 156.25 294.48 156.90 293.20"/>
<path d="M156.90 293.20C157.20 292.30 158.18 289.47 158.70 287.80C159.22 286.13 159.57 285.17 160.00 283.20C160.43 281.23 160.90 278.20 161.30 276.00C161.70 273.80 161.83 272.80 162.40 270.00C162.97 267.20 164.03 262.52 164.70 259.20C165.37 255.88 165.93 252.57 166.40 250.10C166.87 247.63 167.07 245.88 167.50 244.40C167.93 242.92 168.75 241.73 169.00 241.20"/>
<path class="ds" d="M169.60 253.00C169.83 252.32 170.48 250.53 171.00 248.90C171.52 247.27 172.13 245.10 172.70 243.20C173.27 241.30 173.73 239.40 174.40 237.50C175.07 235.60 175.60 234.13 176.70 231.80C177.80 229.47 179.45 226.63 181.00 223.50C182.55 220.37 184.50 216.42 186.00 213.00C187.50 209.58 188.82 205.93 190.00 203.00C191.18 200.07 191.93 198.23 193.10 195.40C194.27 192.57 195.72 189.13 197.00 186.00C198.28 182.87 200.17 178.17 200.80 176.60"/></g>
</svg>
</body></html>
